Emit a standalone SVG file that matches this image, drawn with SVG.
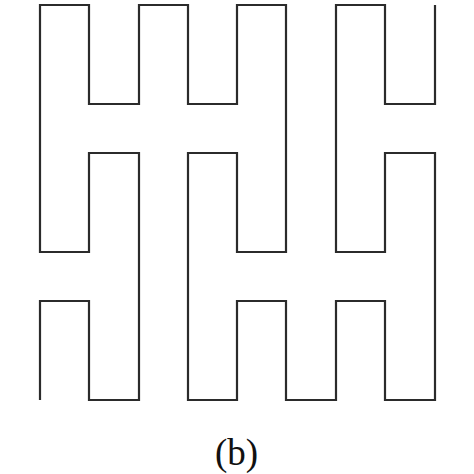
<svg xmlns="http://www.w3.org/2000/svg" width="474" height="474" viewBox="0 0 474 474">
<style>
.curve{fill:none;stroke:#2b2b2b;stroke-width:2.2;stroke-linejoin:miter;stroke-linecap:butt}
.lbl{font-family:"Liberation Serif","Times New Roman",serif;font-size:37px;fill:#111}
</style>
<rect width="474" height="474" fill="#fff"/>
<g id="connectors">
<path class="curve" d="M40,400 V301 H89 V400 H139 V153 H89 V252 H40 V5 H89 V104 H139 V5 H188 V104 H237 V5 H286 V252 H237 V153 H188 V400 H237 V301 H286 V400 H336 V301 H385 V400 H435 V153 H385 V252 H336 V5 H385 V104 H435 V5"/>
</g>
<g id="label"><text class="lbl" x="236.5" y="465" text-anchor="middle">(b)</text></g>
</svg>
